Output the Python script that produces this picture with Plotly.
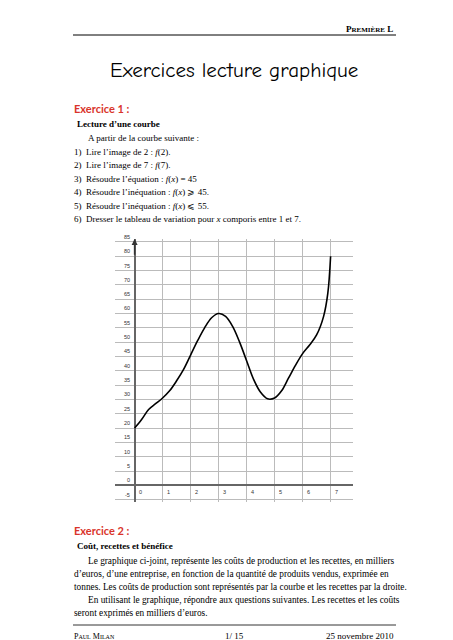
import plotly.graph_objects as go

# curve
x_vals = [0, 0.25, 0.5, 0.75, 1, 1.25, 1.5, 1.75, 2, 2.25, 2.5, 2.75, 3, 3.25, 3.5, 3.75, 4, 4.25, 4.5, 4.75, 5,
          5.25, 5.5, 5.75, 6, 6.25, 6.5, 6.75, 6.9, 7]
y_vals = [20, 23, 26.5, 28.5, 30.5, 33, 36.5, 40.5, 45.5, 50.5, 55, 58.5, 60, 59, 55.5, 50, 43.5, 37, 32.5, 30.2, 30.5,
          33, 37.5, 42, 46, 49, 52.5, 59, 67, 80]
y_ticks = list(range(-5, 90, 5))
x_ticks = list(range(0, 8))

W, H = 453, 640
def py(p):
    return 1 - p / H
def px_(p):
    return p / W

fig = go.Figure()
fig.add_trace(go.Scatter(x=x_vals, y=y_vals, mode="lines", line=dict(color="black", width=1.6, shape="spline"),
                         showlegend=False, hoverinfo="skip"))

fig.update_xaxes(range=[-0.7, 7.8], domain=[px_(107), px_(345)], tickvals=x_ticks, showticklabels=False,
                 showgrid=True, gridcolor="#bbbbbb", gridwidth=1, zeroline=True, zerolinecolor="#666", zerolinewidth=2)
fig.update_yaxes(range=[-5.8, 86], domain=[py(494), py(231)], tickvals=y_ticks, showticklabels=False,
                 showgrid=True, gridcolor="#bbbbbb", gridwidth=1, zeroline=True, zerolinecolor="#666", zerolinewidth=2)

ann = []
for t in y_ticks:
    ann.append(dict(x=-0.1, y=t, xref="x", yref="y", text=str(t), showarrow=False, xanchor="right", yanchor="bottom",
                    font=dict(size=5.5, color="#333", family="Liberation Sans")))
for t in x_ticks:
    ann.append(dict(x=t + 0.1, y=-0.5, xref="x", yref="y", text=str(t), showarrow=False, xanchor="left", yanchor="top",
                    font=dict(size=5.5, color="#333", family="Liberation Sans")))

serif = "Liberation Serif"
def txt(x, y, s, size=9, anchor="left", color="black", family=serif):
    ann.append(dict(x=px_(x), y=py(y), xref="paper", yref="paper", text=s, showarrow=False, xanchor=anchor,
                    yanchor="middle", font=dict(size=size, color=color, family=family)))

txt(387, 21, "<b>P<span style='font-size:7px'>REMIÈRE</span> L</b>", anchor="right")
txt(226, 62, "Exercices lecture graphique", size=21, anchor="center", family="Comic Neue, Lato")
red = "#d9342b"
txt(64, 100, "<b>Exercice 1 :</b>", size=11, color=red, family="Lato")
txt(67, 116, "<b>Lecture d’une courbe</b>")
lines1 = ["A partir de la courbe suivante :",
          "1)  Lire l’image de 2 : <i>f</i>(2).",
          "2)  Lire l’image de 7 : <i>f</i>(7).",
          "3)  Résoudre l’équation : <i>f</i>(<i>x</i>) = 45",
          "4)  Résoudre l’inéquation : <i>f</i>(<i>x</i>) ⩾ 45.",
          "5)  Résoudre l’inéquation : <i>f</i>(<i>x</i>) ⩽ 55.",
          "6)  Dresser le tableau de variation pour <i>x</i> comporis entre 1 et 7."]
ys1 = [130, 144, 157, 171, 184, 198, 211]
for i, (s, yy) in enumerate(zip(lines1, ys1)):
    txt(78 if i == 0 else 64, yy, s)

txt(64, 522, "<b>Exercice 2 :</b>", size=11, color=red, family="Lato")
txt(67, 538, "<b>Coût, recettes et bénéfice</b>")
lines2 = ["Le graphique ci-joint, représente les coûts de production et les recettes, en milliers",
          "d’euros, d’une entreprise, en fonction de la quantité de produits vendus, exprimée en",
          "tonnes. Les coûts de production sont représentés par la courbe et les recettes par la droite.",
          "En utilisant le graphique, répondre aux questions suivantes. Les recettes et les coûts",
          "seront exprimés en milliers d’euros."]
ys2 = [553, 566, 579, 592, 605]
for i, (s, yy) in enumerate(zip(lines2, ys2)):
    txt(78 if i in (0, 3) else 64, yy, s, size=9.3)

txt(64, 628, "P<span style='font-size:6px'>AUL</span> M<span style='font-size:6px'>ILAN</span>", size=8)
txt(226, 628, "1/ 15", size=9, anchor="center")
txt(388, 628, "25 novembre 2010", size=9, anchor="right")

shapes = [dict(type="line", xref="paper", yref="paper", x0=px_(65), x1=px_(388), y0=py(27), y1=py(27),
               line=dict(color="black", width=1)),
          dict(type="line", xref="paper", yref="paper", x0=px_(65), x1=px_(388), y0=py(617), y1=py(617),
               line=dict(color="black", width=0.8))]
ann.append(dict(x=0, y=86, ax=0, ay=80, xref="x", yref="y", axref="x", ayref="y", text="", showarrow=True,
                arrowhead=2, arrowsize=0.8, arrowwidth=1.5, arrowcolor="#333"))

fig.update_layout(width=W, height=H, margin=dict(l=0, r=0, t=0, b=0), paper_bgcolor="white",
                  plot_bgcolor="white", annotations=ann, shapes=shapes)
fig.write_html("out.html")
